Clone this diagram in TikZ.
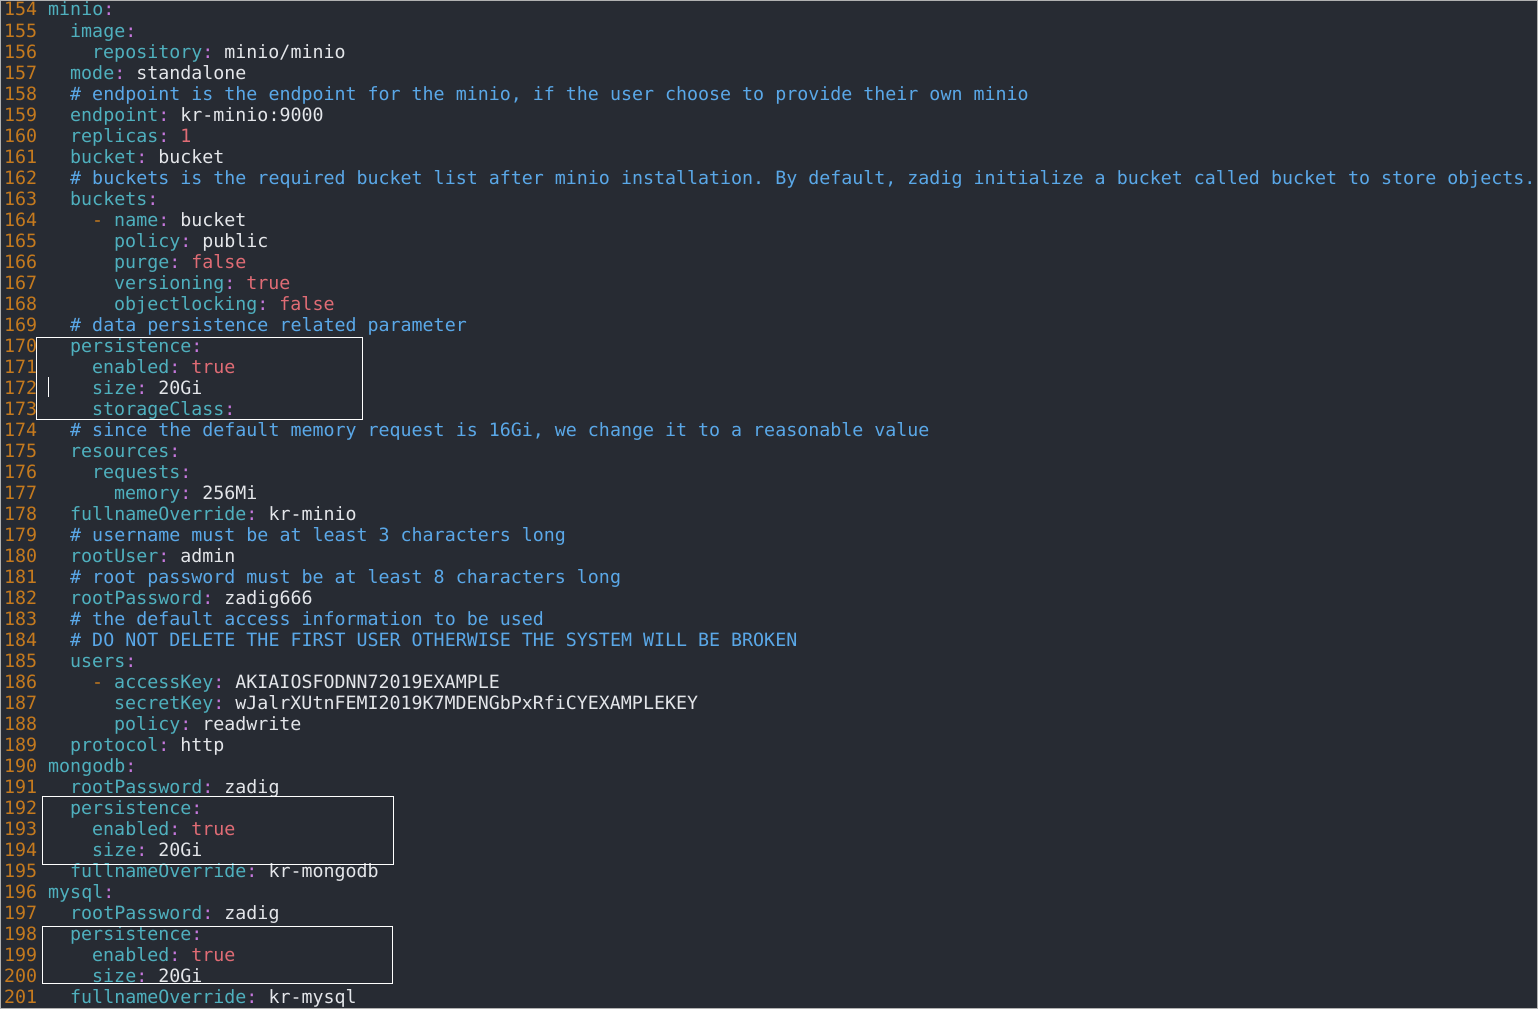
\documentclass[tikz,border=0pt]{standalone}
\usepackage{fontspec}
\newfontfamily\cf{DejaVu Sans Mono}
\definecolor{bg}{HTML}{272B33}
\definecolor{num}{HTML}{C57A1E}
\definecolor{keyc}{HTML}{4FB0BE}
\definecolor{com}{HTML}{5AA8E8}
\definecolor{valc}{HTML}{E4E6EA}
\definecolor{redc}{HTML}{E06C75}
\definecolor{colc}{HTML}{C678DD}
\frenchspacing
\newcommand\K[1]{\textcolor{keyc}{#1}\textcolor{colc}{:}}
\newcommand\CM[1]{\textcolor{com}{#1}}
\newcommand\RD[1]{\textcolor{redc}{#1}}
\newcommand\DS{\textcolor{num}{-}}
\newcommand\Ln[3]{%
  \node[anchor=base west,text=num,inner sep=0pt] (n#1) at (4,{16+(#1-154)*21}) {#1};
  \node[anchor=base west,text=valc,inner sep=0pt] (l#1) at ({48+#2*22},{16+(#1-154)*21}) {#3};}
\begin{document}
\begin{tikzpicture}[x=1pt,y=-1pt,font=\cf\frenchspacing\fontsize{18.3}{21}\selectfont,
  hbox/.style={draw=white,line width=1pt}]
\useasboundingbox (0,0) rectangle (1538,1009);
\fill[bg] (0,0) rectangle (1538,1009);
\draw[gray!60,line width=1pt] (0.5,0.5) rectangle (1537.5,1008.5);
\Ln{154}{0}{\K{minio}}
\Ln{155}{1}{\K{image}}
\Ln{156}{2}{\K{repository} minio/minio}
\Ln{157}{1}{\K{mode} standalone}
\Ln{158}{1}{\CM{\# endpoint is the endpoint for the minio, if the user choose to provide their own minio}}
\Ln{159}{1}{\K{endpoint} kr-minio:9000}
\Ln{160}{1}{\K{replicas} \RD{1}}
\Ln{161}{1}{\K{bucket} bucket}
\Ln{162}{1}{\CM{\# buckets is the required bucket list after minio installation. By default, zadig initialize a bucket called bucket to store objects.}}
\Ln{163}{1}{\K{buckets}}
\Ln{164}{2}{\DS{} \K{name} bucket}
\Ln{165}{3}{\K{policy} public}
\Ln{166}{3}{\K{purge} \RD{false}}
\Ln{167}{3}{\K{versioning} \RD{true}}
\Ln{168}{3}{\K{objectlocking} \RD{false}}
\Ln{169}{1}{\CM{\# data persistence related parameter}}
\Ln{170}{1}{\K{persistence}}
\Ln{171}{2}{\K{enabled} \RD{true}}
\Ln{172}{2}{\K{size} 20Gi}
\Ln{173}{2}{\K{storageClass}}
\Ln{174}{1}{\CM{\# since the default memory request is 16Gi, we change it to a reasonable value}}
\Ln{175}{1}{\K{resources}}
\Ln{176}{2}{\K{requests}}
\Ln{177}{3}{\K{memory} 256Mi}
\Ln{178}{1}{\K{fullnameOverride} kr-minio}
\Ln{179}{1}{\CM{\# username must be at least 3 characters long}}
\Ln{180}{1}{\K{rootUser} admin}
\Ln{181}{1}{\CM{\# root password must be at least 8 characters long}}
\Ln{182}{1}{\K{rootPassword} zadig666}
\Ln{183}{1}{\CM{\# the default access information to be used}}
\Ln{184}{1}{\CM{\# DO NOT DELETE THE FIRST USER OTHERWISE THE SYSTEM WILL BE BROKEN}}
\Ln{185}{1}{\K{users}}
\Ln{186}{2}{\DS{} \K{accessKey} AKIAIOSFODNN72019EXAMPLE}
\Ln{187}{3}{\K{secretKey} wJalrXUtnFEMI2019K7MDENGbPxRfiCYEXAMPLEKEY}
\Ln{188}{3}{\K{policy} readwrite}
\Ln{189}{1}{\K{protocol} http}
\Ln{190}{0}{\K{mongodb}}
\Ln{191}{1}{\K{rootPassword} zadig}
\Ln{192}{1}{\K{persistence}}
\Ln{193}{2}{\K{enabled} \RD{true}}
\Ln{194}{2}{\K{size} 20Gi}
\Ln{195}{1}{\K{fullnameOverride} kr-mongodb}
\Ln{196}{0}{\K{mysql}}
\Ln{197}{1}{\K{rootPassword} zadig}
\Ln{198}{1}{\K{persistence}}
\Ln{199}{2}{\K{enabled} \RD{true}}
\Ln{200}{2}{\K{size} 20Gi}
\Ln{201}{1}{\K{fullnameOverride} kr-mysql}
\draw[hbox] (36,337) rectangle (362,419);
\draw[hbox] (42,796) rectangle (393,864);
\draw[hbox] (42,926) rectangle (392,983);
\draw[white,line width=1pt] (48,377) -- (48,397);
\end{tikzpicture}
\end{document}
